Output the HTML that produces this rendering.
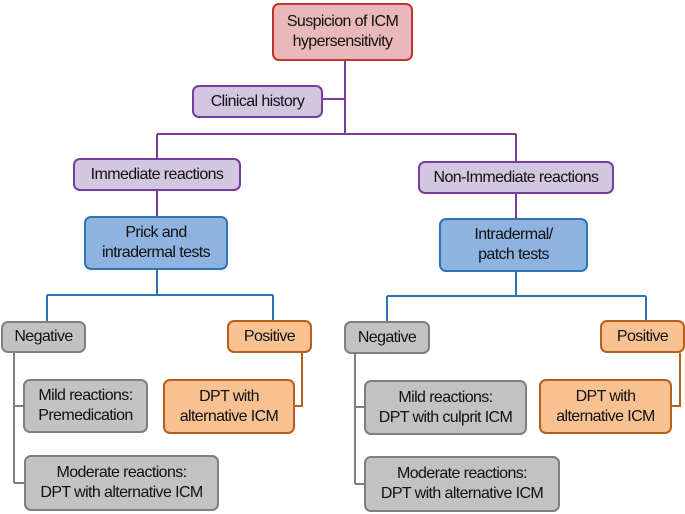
<!DOCTYPE html>
<html><head><style>
body{margin:0;width:685px;height:514px;background:#fff;position:relative;overflow:hidden;font-family:"Liberation Sans",Arial,sans-serif;}
.b{position:absolute;box-sizing:border-box;border:2px solid;border-radius:7px;display:flex;align-items:center;justify-content:center;text-align:center;font-size:16px;line-height:20px;color:#111;letter-spacing:-0.6px;white-space:nowrap}
.p{border-color:#7a3c9c;background:#d2c6e0}
.r{border-color:#c8302c;background:#e9b9b9}
.bl{border-color:#2e74b5;background:#8fb3e0}
.g{border-color:#7f7f7f;background:#c2c2c2}
.o{border-color:#b5601c;background:#f8c192}
svg{position:absolute;left:0;top:0}
</style></head><body>
<svg width="685" height="514" fill="none" stroke-width="2">
<g stroke="#7a3c9c">
<path d="M345 61V134M323 99H345M157 134H516M157 134V158M516 134V161M157 191V216M516 194V218"/>
</g>
<g stroke="#2e74b5">
<path d="M157 270V295M47 295H273M47 295V321M273 295V320M516 272V296M387 296H646M387 296V321M646 296V320"/>
</g>
<g stroke="#7f7f7f">
<path d="M14 353V483M14 406H23M14 483H24M355 354V484M355 407H364M355 484H364"/>
</g>
<g stroke="#b5601c">
<path d="M302 353V406H295M680 353V406H672"/>
</g>
</svg>
<div class="b r" style="left:272px;top:3px;width:141px;height:58px">Suspicion of ICM<br>hypersensitivity</div>
<div class="b p" style="left:192px;top:85px;width:131px;height:33px">Clinical history</div>
<div class="b p" style="left:73px;top:158px;width:168px;height:33px">Immediate reactions</div>
<div class="b p" style="left:418px;top:161px;width:196px;height:33px">Non-Immediate reactions</div>
<div class="b bl" style="left:84px;top:216px;width:144px;height:54px">Prick and<br>intradermal tests</div>
<div class="b bl" style="left:439px;top:218px;width:149px;height:54px">Intradermal/<br>patch tests</div>
<div class="b g" style="left:1px;top:321px;width:85px;height:32px">Negative</div>
<div class="b o" style="left:227px;top:320px;width:85px;height:33px">Positive</div>
<div class="b g" style="left:23px;top:379px;width:125px;height:54px">Mild reactions:<br>Premedication</div>
<div class="b o" style="left:163px;top:379px;width:132px;height:55px">DPT with<br>alternative ICM</div>
<div class="b g" style="left:24px;top:455px;width:195px;height:56px">Moderate reactions:<br>DPT with alternative ICM</div>
<div class="b g" style="left:344px;top:321px;width:86px;height:33px">Negative</div>
<div class="b o" style="left:600px;top:320px;width:85px;height:33px">Positive</div>
<div class="b g" style="left:364px;top:380px;width:163px;height:55px">Mild reactions:<br>DPT with culprit ICM</div>
<div class="b o" style="left:539px;top:379px;width:133px;height:55px">DPT with<br>alternative ICM</div>
<div class="b g" style="left:364px;top:456px;width:196px;height:56px">Moderate reactions:<br>DPT with alternative ICM</div>
</body></html>
